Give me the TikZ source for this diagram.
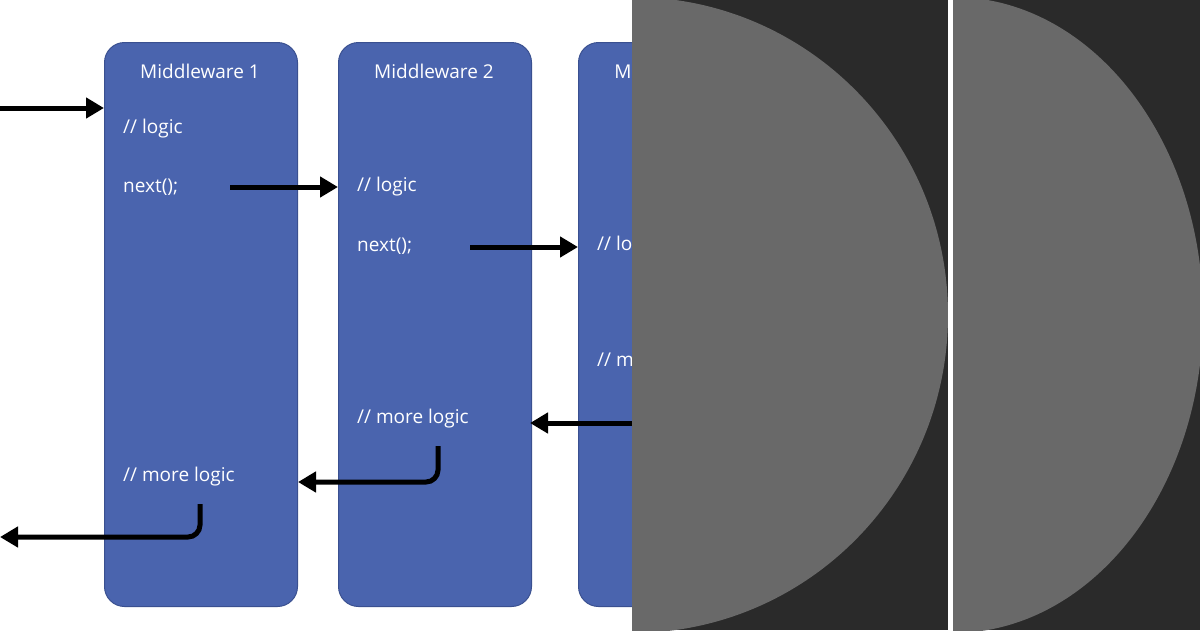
\documentclass[tikz,border=0pt]{standalone}
\usepackage{fontspec}
\setmainfont{Open Sans}
\usetikzlibrary{arrows.meta}
\definecolor{mw}{HTML}{4A64AE}
\definecolor{mwb}{HTML}{3A5090}
\definecolor{dark}{HTML}{2A2A2A}
\definecolor{disc}{HTML}{696969}
\begin{document}
\begin{tikzpicture}[x=1pt,y=-1pt,
  box/.style={draw=mwb,line width=1pt,fill=mw,rounded corners=20pt,minimum width=193pt,minimum height=564pt,anchor=north west,inner sep=0pt},
  txt/.style={text=white,font=\fontsize{19}{23}\selectfont,anchor=west,inner sep=0pt},
  ttl/.style={text=white,font=\fontsize{19}{23}\selectfont,anchor=center,inner sep=0pt},
  arr/.style={line width=5pt,-{Triangle[length=18pt,width=20pt]},rounded corners=12pt}]
\useasboundingbox (0,0) rectangle (1200,630);
\fill[white] (0,0) rectangle (1200,630);
\node[box] (b1) at (104,42) {};
\node[box] (b2) at (338,42) {};
\node[box] (b3) at (578,42) {};
\node[ttl] (t1) at (200,71) {Middleware 1};
\node[ttl] (t2) at (434,71) {Middleware 2};
\node[ttl] (t3) at (674,71) {Middleware 3};
\node[txt] (l1) at (123,129) {// logic};
\node[txt] (n1) at (123,187) {next();};
\node[txt] (m1) at (123,477) {// more logic};
\node[txt] (l2) at (357,187) {// logic};
\node[txt] (n2) at (357,246) {next();};
\node[txt] (m2) at (357,419) {// more logic};
\node[txt] (l3) at (597,246) {// logic};
\node[txt] (m3) at (597,362) {// more logic};
\coordinate (in) at (0,108);
\coordinate (out) at (0,537);
\coordinate (s1) at (230,187);
\coordinate (e1) at (338,187);
\coordinate (s2) at (470,247);
\coordinate (e2) at (578,247);
\coordinate (r3) at (640,423);
\coordinate (e3) at (530,423);
\draw[arr] (in) -- (104,108);
\draw[arr] (s1) -- (e1);
\draw[arr] (s2) -- (e2);
\draw[arr] (r3) -- (e3);
\draw[arr] (438,446) -- (438,482) -- (298,482);
\draw[arr] (200,504) -- (200,537) -- (out);
\fill[dark] (632,0) rectangle (1200,630);
\begin{scope}
\clip (632,0) rectangle (948,630);
\fill[disc] (632,315) ellipse[x radius=316,y radius=318];
\end{scope}
\begin{scope}
\clip (953,0) rectangle (1200,630);
\fill[disc] (953,315) ellipse[x radius=250,y radius=318];
\end{scope}
\fill[white] (948,0) rectangle (953,630);
\end{tikzpicture}
\end{document}
